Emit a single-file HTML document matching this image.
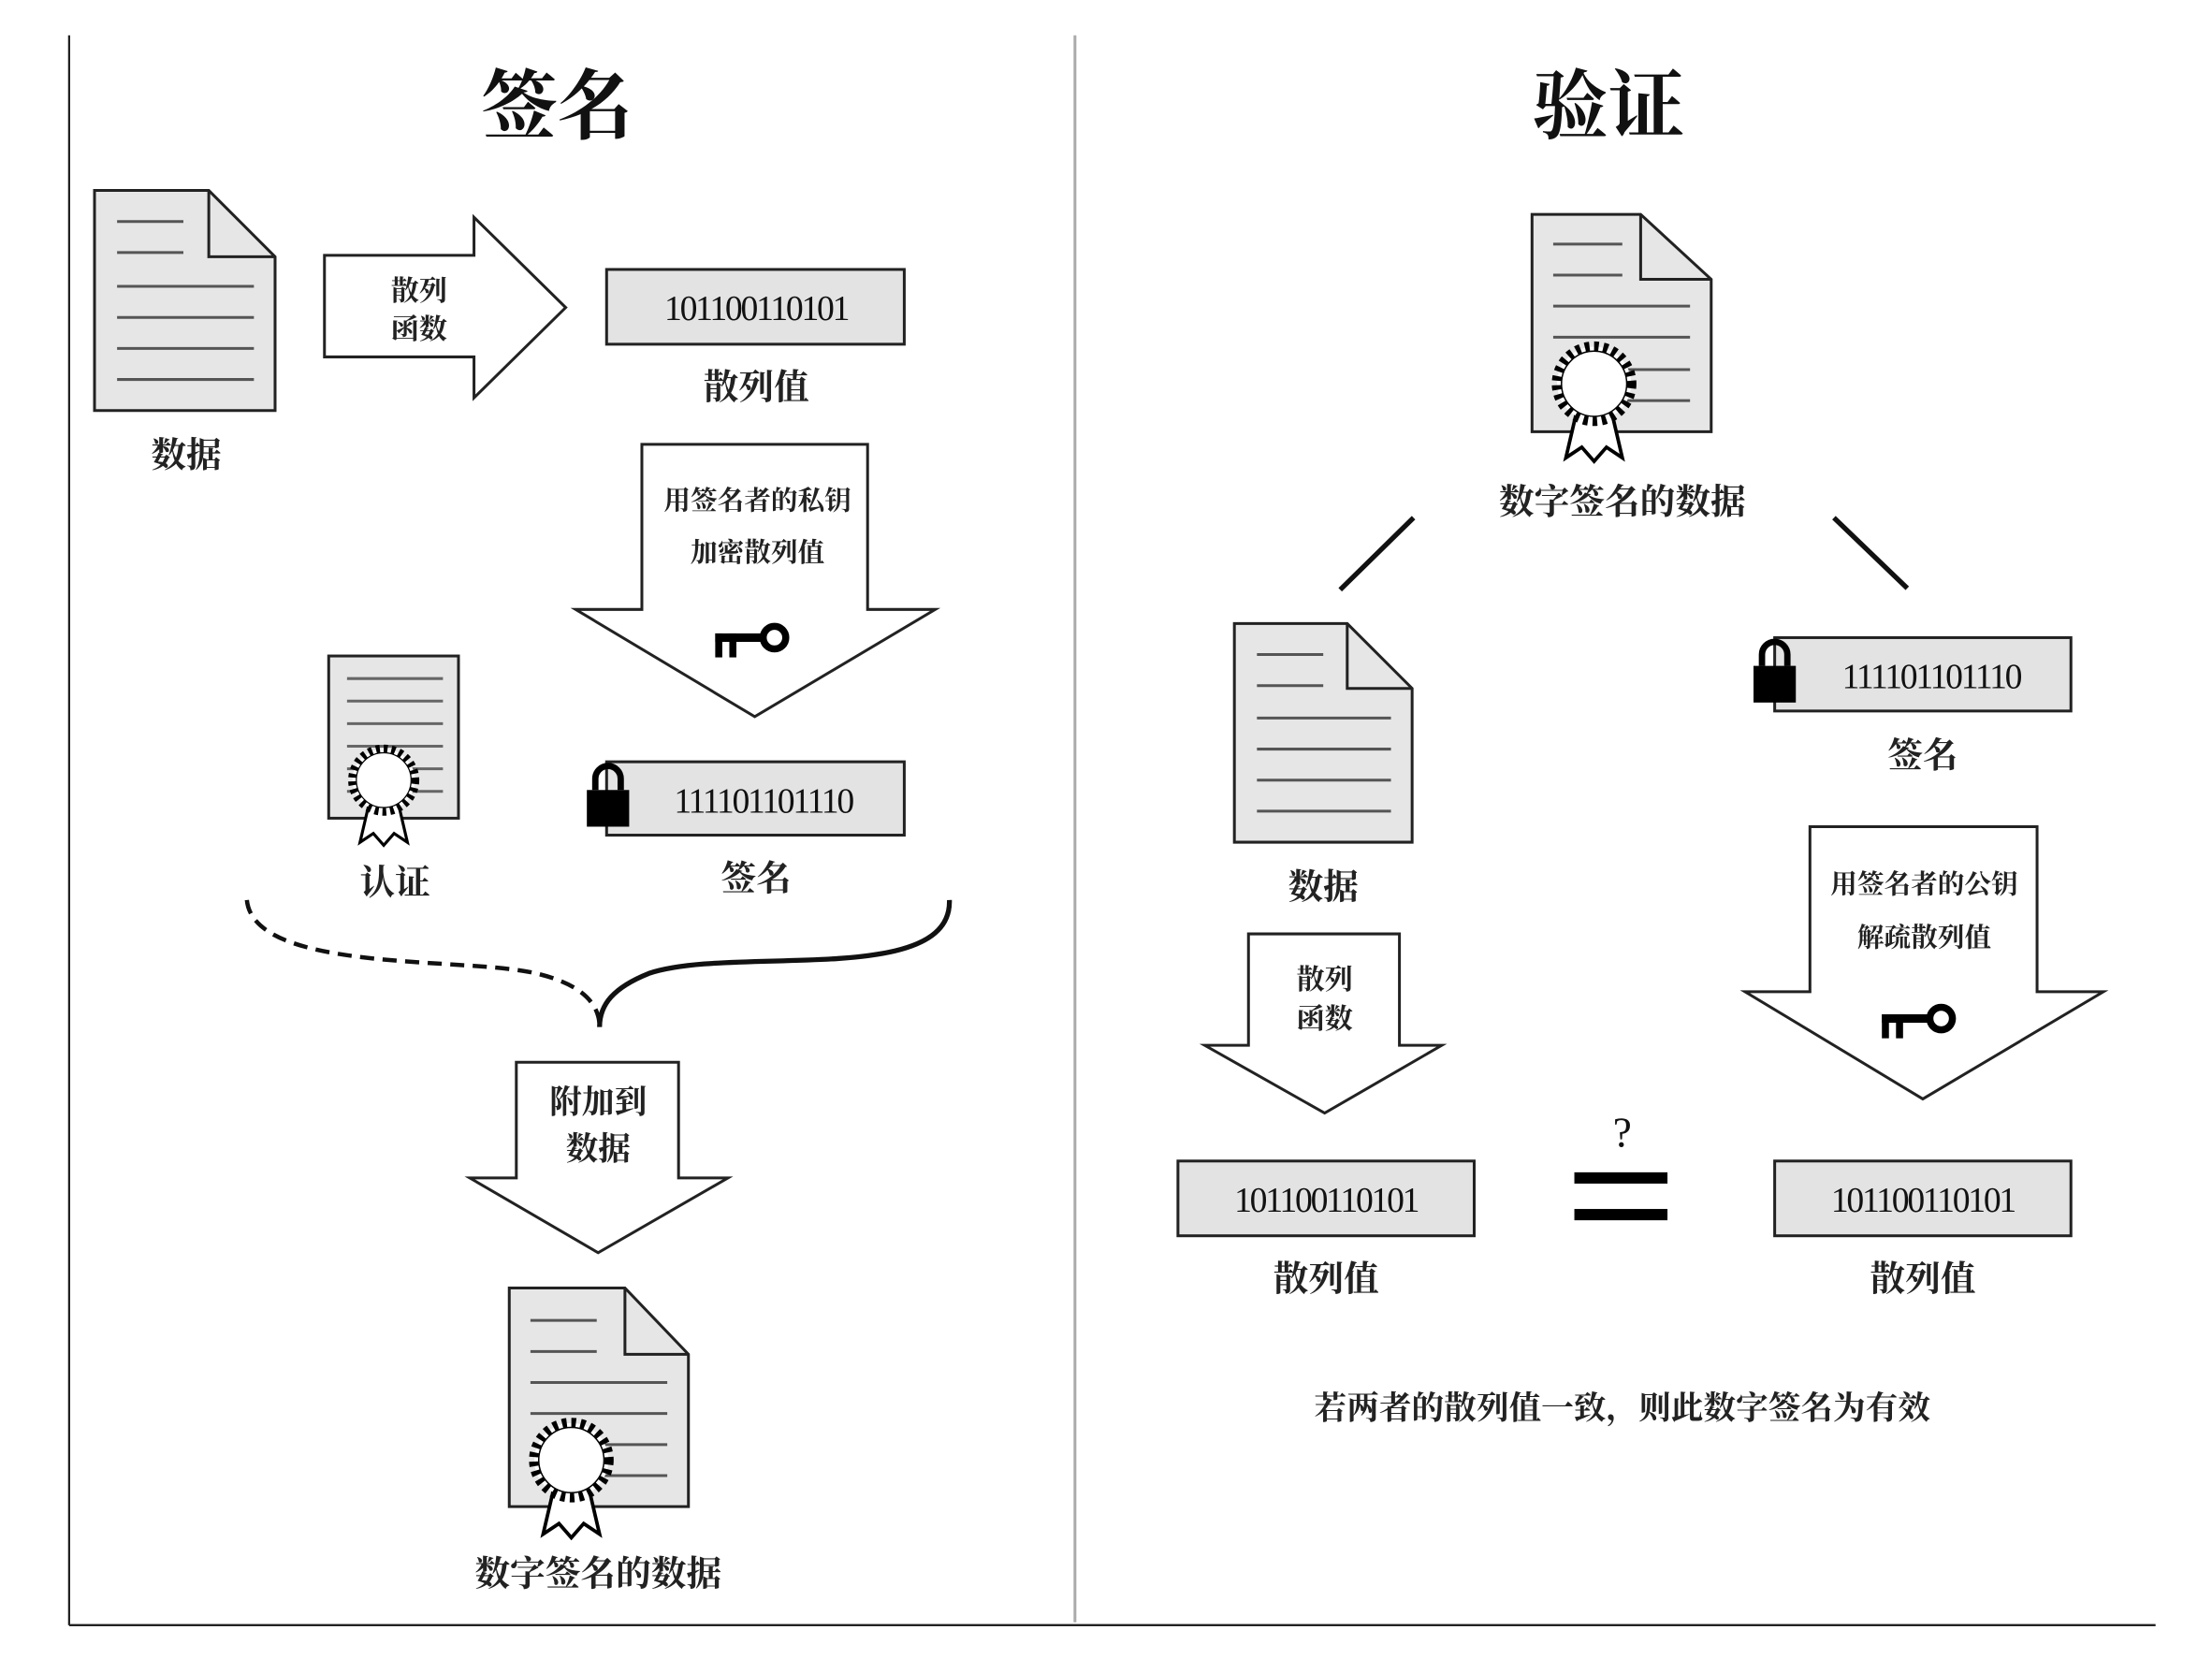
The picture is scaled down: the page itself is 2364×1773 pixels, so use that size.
<!DOCTYPE html>
<html><head><meta charset="utf-8"><style>
html,body{margin:0;padding:0;background:#fff;}
svg{display:block;}
.lb{font-family:"Liberation Serif","Noto Serif CJK SC",serif;font-weight:bold;fill:#222;text-anchor:middle;}
.num{font-family:"Liberation Serif",serif;fill:#111;text-anchor:middle;font-size:25px;letter-spacing:-1.5px;}
</style></head><body>
<svg width="2364" height="1773" viewBox="0 0 1568 1176" xmlns="http://www.w3.org/2000/svg">
<defs>
<g id="seal">
  <path d="M-9 12 L-16 42 L-7 36 L0 44 L7 36 L16 42 L9 12 Z" fill="#fff" stroke="#000" stroke-width="2"/>
  <circle r="21" fill="#fff" stroke="#000" stroke-width="6" stroke-dasharray="2.6 2.6"/>
  <circle r="18.5" fill="#fff"/>
  <circle r="18.5" fill="none" stroke="#000" stroke-width="0.8"/>
</g>
<g id="key">
  <circle cx="14" cy="0" r="8" fill="none" stroke="#000" stroke-width="5"/>
  <rect x="-28" y="-3" width="36" height="6" fill="#000"/>
  <rect x="-28" y="-3" width="5" height="17" fill="#000"/>
  <rect x="-18" y="-3" width="5" height="17" fill="#000"/>
</g>
<g id="lock">
  <path d="M-9 -4 v-8 a9 9 0 0 1 18 0 v8" fill="none" stroke="#000" stroke-width="4.5"/>
  <rect x="-15" y="-4" width="30" height="26" fill="#000"/>
</g>
</defs>

<line x1="49" y1="25" x2="49" y2="1152" stroke="#222" stroke-width="1.5"/>
<line x1="49" y1="1152" x2="1528" y2="1152" stroke="#222" stroke-width="1.5"/>
<line x1="762" y1="25" x2="762" y2="1150" stroke="#aaa" stroke-width="2"/>

<text x="395" y="94" class="lb" style="font-size:54px;fill:#111">签名</text>
<text x="1140" y="94" class="lb" style="font-size:54px;fill:#111">验证</text>

<path d="M67 135 H148 L195 182 V291 H67 Z" fill="#e6e6e6" stroke="#222" stroke-width="2"/>
<path d="M148 135 V182 H195" fill="none" stroke="#222" stroke-width="2"/>
<g stroke="#555" stroke-width="2">
<line x1="83" y1="157" x2="130" y2="157"/><line x1="83" y1="179" x2="130" y2="179"/>
<line x1="83" y1="203" x2="180" y2="203"/><line x1="83" y1="225" x2="180" y2="225"/>
<line x1="83" y1="247" x2="180" y2="247"/><line x1="83" y1="269" x2="180" y2="269"/>
</g>
<text x="132" y="331" class="lb" style="font-size:25px">数据</text>

<path d="M230 181 H336 V154 L401 218 L336 282 V253 H230 Z" fill="#fff" stroke="#222" stroke-width="2"/>
<text x="297" y="213" class="lb" style="font-size:20px">散列</text>
<text x="297" y="240" class="lb" style="font-size:20px">函数</text>

<rect x="430" y="191" width="211" height="53" fill="#e3e3e3" stroke="#222" stroke-width="2"/>
<text x="536" y="227" class="num">101100110101</text>
<text x="536" y="283" class="lb" style="font-size:25px">散列值</text>

<path d="M455 315 H615 V432 H663 L535 508 L408 432 H455 Z" fill="#fff" stroke="#222" stroke-width="2"/>
<text x="537" y="361" class="lb" style="font-size:19px">用签名者的私钥</text>
<text x="537" y="398" class="lb" style="font-size:19px">加密散列值</text>
<use href="#key" x="535" y="452"/>

<rect x="233" y="465" width="92" height="115" fill="#e6e6e6" stroke="#222" stroke-width="2"/>
<g stroke="#666" stroke-width="2">
<line x1="246" y1="481" x2="314" y2="481"/><line x1="246" y1="497" x2="314" y2="497"/>
<line x1="246" y1="513" x2="314" y2="513"/><line x1="246" y1="529" x2="314" y2="529"/>
<line x1="246" y1="545" x2="314" y2="545"/><line x1="246" y1="561" x2="314" y2="561"/>
</g>
<use href="#seal" transform="translate(272 553) scale(1.05)"/>
<text x="280" y="634" class="lb" style="font-size:25px">认证</text>

<rect x="430" y="540" width="211" height="52" fill="#e3e3e3" stroke="#222" stroke-width="2"/>
<text x="541" y="576" class="num">111101101110</text>
<use href="#lock" x="431" y="564"/>
<text x="536" y="631" class="lb" style="font-size:25px">签名</text>

<path d="M175 638 C180 690 330 678 380 690 C410 697 425 710 425 728" fill="none" stroke="#111" stroke-width="3" stroke-dasharray="10 6"/>
<path d="M673 638 C675 700 520 670 460 690 C435 700 425 712 425 728" fill="none" stroke="#111" stroke-width="3.5"/>

<path d="M366 753 H481 V835 H516 L424 888 L333 835 H366 Z" fill="#fff" stroke="#222" stroke-width="2"/>
<text x="424" y="789" class="lb" style="font-size:23px">附加到</text>
<text x="424" y="822" class="lb" style="font-size:23px">数据</text>

<path d="M361 913 H443 L488 960 V1068 H361 Z" fill="#e6e6e6" stroke="#222" stroke-width="2"/>
<path d="M443 913 V960 H488" fill="none" stroke="#222" stroke-width="2"/>
<g stroke="#555" stroke-width="2">
<line x1="376" y1="936" x2="423" y2="936"/><line x1="376" y1="958" x2="423" y2="958"/>
<line x1="376" y1="980" x2="473" y2="980"/><line x1="376" y1="1002" x2="473" y2="1002"/>
<line x1="420" y1="1024" x2="473" y2="1024"/><line x1="420" y1="1046" x2="473" y2="1046"/>
</g>
<use href="#seal" transform="translate(405 1035) scale(1.25)"/>
<text x="424" y="1124" class="lb" style="font-size:25px">数字签名的数据</text>

<path d="M1086 152 H1163 L1213 198 V306 H1086 Z" fill="#e6e6e6" stroke="#222" stroke-width="2"/>
<path d="M1163 152 V198 H1213" fill="none" stroke="#222" stroke-width="2"/>
<g stroke="#555" stroke-width="2">
<line x1="1101" y1="173" x2="1150" y2="173"/><line x1="1101" y1="195" x2="1150" y2="195"/>
<line x1="1101" y1="217" x2="1198" y2="217"/><line x1="1101" y1="239" x2="1198" y2="239"/>
<line x1="1150" y1="262" x2="1198" y2="262"/><line x1="1150" y1="284" x2="1198" y2="284"/>
</g>
<use href="#seal" transform="translate(1130 272) scale(1.25)"/>
<text x="1150" y="364" class="lb" style="font-size:25px">数字签名的数据</text>

<line x1="1002" y1="367" x2="950" y2="418" stroke="#111" stroke-width="3.5"/>
<line x1="1300" y1="367" x2="1352" y2="417" stroke="#111" stroke-width="3.5"/>

<path d="M875 442 H955 L1001 488 V597 H875 Z" fill="#e6e6e6" stroke="#222" stroke-width="2"/>
<path d="M955 442 V488 H1001" fill="none" stroke="#222" stroke-width="2"/>
<g stroke="#555" stroke-width="2">
<line x1="891" y1="464" x2="938" y2="464"/><line x1="891" y1="486" x2="938" y2="486"/>
<line x1="891" y1="509" x2="986" y2="509"/><line x1="891" y1="531" x2="986" y2="531"/>
<line x1="891" y1="553" x2="986" y2="553"/><line x1="891" y1="575" x2="986" y2="575"/>
</g>
<text x="938" y="637" class="lb" style="font-size:25px">数据</text>

<rect x="1258" y="452" width="210" height="52" fill="#e3e3e3" stroke="#222" stroke-width="2"/>
<text x="1369" y="488" class="num">111101101110</text>
<use href="#lock" x="1258" y="476"/>
<text x="1363" y="544" class="lb" style="font-size:25px">签名</text>

<path d="M885 662 H992 V741 H1022 L939 789 L854 741 H885 Z" fill="#fff" stroke="#222" stroke-width="2"/>
<text x="939" y="701" class="lb" style="font-size:20px">散列</text>
<text x="939" y="729" class="lb" style="font-size:20px">函数</text>

<path d="M1283 586 H1444 V703 H1491 L1363 779 L1237 703 H1283 Z" fill="#fff" stroke="#222" stroke-width="2"/>
<text x="1364" y="633" class="lb" style="font-size:19px">用签名者的公钥</text>
<text x="1364" y="671" class="lb" style="font-size:19px">解疏散列值</text>
<use href="#key" x="1362" y="722"/>

<rect x="835" y="823" width="210" height="53" fill="#e3e3e3" stroke="#222" stroke-width="2"/>
<text x="940" y="859" class="num">101100110101</text>
<rect x="1258" y="823" width="210" height="53" fill="#e3e3e3" stroke="#222" stroke-width="2"/>
<text x="1363" y="859" class="num">101100110101</text>
<text x="940" y="915" class="lb" style="font-size:25px">散列值</text>
<text x="1363" y="915" class="lb" style="font-size:25px">散列值</text>

<text x="1150" y="813" style="font-family:'Liberation Serif',serif;font-size:30px;text-anchor:middle;fill:#111">?</text>
<rect x="1116" y="831" width="66" height="8" fill="#000"/>
<rect x="1116" y="857" width="66" height="8" fill="#000"/>

<text x="1150" y="1006" class="lb" style="font-size:23px">若两者的散列值一致，则此数字签名为有效</text>
</svg>
</body></html>
